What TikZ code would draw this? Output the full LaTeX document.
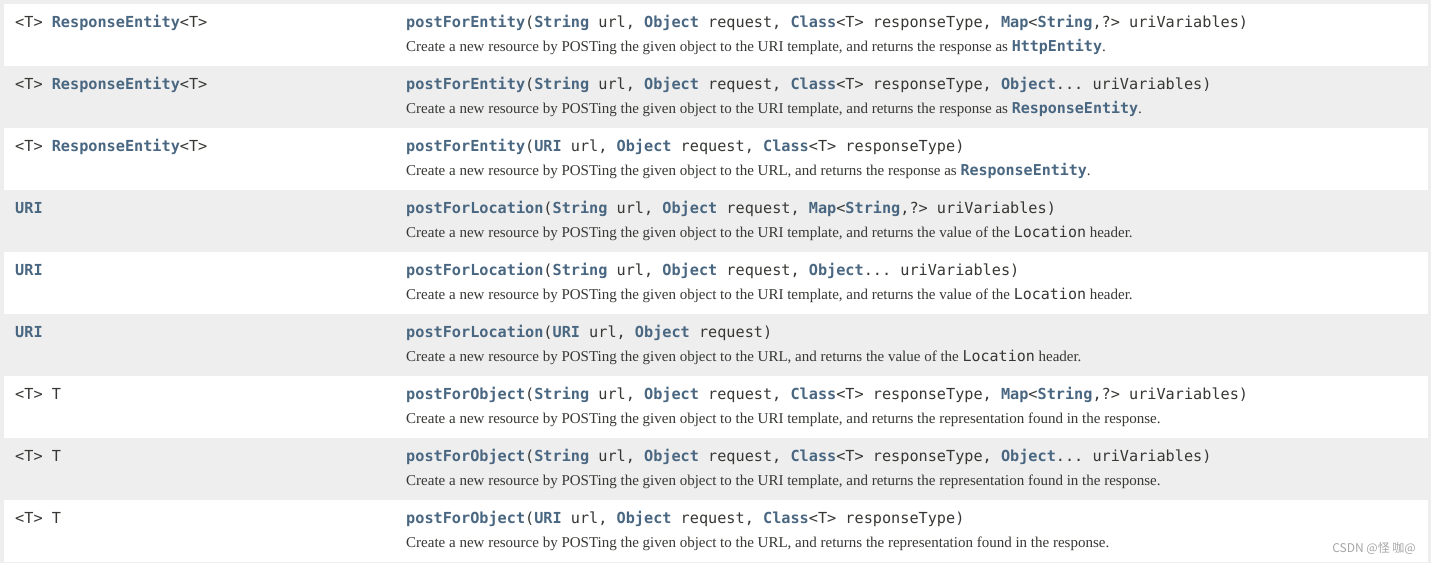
\documentclass[tikz,border=0pt]{standalone}
\usepackage{fontspec}
\setmainfont{Liberation Serif}
\setmonofont{DejaVu Sans Mono}
\newfontfamily\cjk{Noto Sans CJK SC}
\definecolor{kwc}{HTML}{4A6782}
\definecolor{txc}{HTML}{353833}
\definecolor{rowg}{HTML}{EEEEEE}
\newcommand\kw[1]{{\bfseries\color{kwc}#1}}
\tikzset{
  code/.style={anchor=base west,inner sep=0pt,text=txc,font=\ttfamily\fontsize{15.2}{18}\selectfont},
  desc/.style={anchor=base west,inner sep=0pt,text=txc,font=\fontsize{15}{18}\selectfont},
}
\begin{document}
\begin{tikzpicture}[x=1pt,y=-1pt]
\useasboundingbox (0,0) rectangle (1431,563);
\fill[rowg] (0,0) rectangle (1431,563);
\foreach \i in {0,2,4,6,8} {\fill[white] (4,{4+62*\i}) rectangle (1428,{4+62*(\i+1)});}
% rows
\def\R#1#2#3#4{%
 \node[code] (l#1) at (15,{27+62*(#1-1)}) {#2};
 \node[code] (m#1) at (406,{27+62*(#1-1)}) {#3};
 \node[desc] (d#1) at (406,{51+62*(#1-1)}) {#4};}
\R{1}{<T> \kw{ResponseEntity}<T>}{\kw{postForEntity}(\kw{String} url, \kw{Object} request, \kw{Class}<T> responseType, \kw{Map}<\kw{String},?> uriVariables)}{Create a new resource by POSTing the given object to the URI template, and returns the response as {\ttfamily\kw{HttpEntity}}.}
\R{2}{<T> \kw{ResponseEntity}<T>}{\kw{postForEntity}(\kw{String} url, \kw{Object} request, \kw{Class}<T> responseType, \kw{Object}... uriVariables)}{Create a new resource by POSTing the given object to the URI template, and returns the response as {\ttfamily\kw{ResponseEntity}}.}
\R{3}{<T> \kw{ResponseEntity}<T>}{\kw{postForEntity}(\kw{URI} url, \kw{Object} request, \kw{Class}<T> responseType)}{Create a new resource by POSTing the given object to the URL, and returns the response as {\ttfamily\kw{ResponseEntity}}.}
\R{4}{\kw{URI}}{\kw{postForLocation}(\kw{String} url, \kw{Object} request, \kw{Map}<\kw{String},?> uriVariables)}{Create a new resource by POSTing the given object to the URI template, and returns the value of the {\ttfamily Location} header.}
\R{5}{\kw{URI}}{\kw{postForLocation}(\kw{String} url, \kw{Object} request, \kw{Object}... uriVariables)}{Create a new resource by POSTing the given object to the URI template, and returns the value of the {\ttfamily Location} header.}
\R{6}{\kw{URI}}{\kw{postForLocation}(\kw{URI} url, \kw{Object} request)}{Create a new resource by POSTing the given object to the URL, and returns the value of the {\ttfamily Location} header.}
\R{7}{<T> T}{\kw{postForObject}(\kw{String} url, \kw{Object} request, \kw{Class}<T> responseType, \kw{Map}<\kw{String},?> uriVariables)}{Create a new resource by POSTing the given object to the URI template, and returns the representation found in the response.}
\R{8}{<T> T}{\kw{postForObject}(\kw{String} url, \kw{Object} request, \kw{Class}<T> responseType, \kw{Object}... uriVariables)}{Create a new resource by POSTing the given object to the URI template, and returns the representation found in the response.}
\R{9}{<T> T}{\kw{postForObject}(\kw{URI} url, \kw{Object} request, \kw{Class}<T> responseType)}{Create a new resource by POSTing the given object to the URL, and returns the representation found in the response.}
\node[anchor=base east,inner sep=0pt,text=gray!70,font=\cjk\fontsize{12}{14}\selectfont] (wm) at (1416,552) {CSDN @怪 咖@};
\end{tikzpicture}
\end{document}
